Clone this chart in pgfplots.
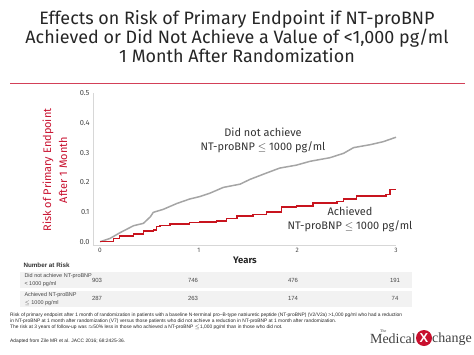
\documentclass[border=0pt]{standalone}
\usepackage{fontspec}
\setmainfont{Fira Sans}
\newfontfamily\arialf{Liberation Sans}
\newfontfamily\logof{Liberation Serif}
\usepackage{pgfplots}
\pgfplotsset{compat=1.18}
\definecolor{mxred}{RGB}{200,16,46}
\definecolor{curvered}{RGB}{200,20,30}
\definecolor{curvegray}{RGB}{165,165,165}
\definecolor{axgray}{RGB}{215,215,215}
\definecolor{rowgray}{RGB}{242,242,242}
\definecolor{txtgray}{RGB}{70,70,70}
\begin{document}
\begin{tikzpicture}
\useasboundingbox (0,0) rectangle (474bp,-355bp);
% title
\node[align=center, font=\fontsize{18}{19}\selectfont, text=black!85] at (237bp,-37bp)
  {Effects on Risk of Primary Endpoint if NT-proBNP\\Achieved or Did Not Achieve a Value of <1,000 pg/ml\\1 Month After Randomization};
\draw[mxred!80, line width=1pt] (10bp,-83bp) -- (465bp,-83bp);
% y label
\node[rotate=90, align=center, text=mxred, font=\fontsize{11}{16}\selectfont] at (55bp,-170bp)
  {Risk of Primary Endpoint\\After 1 Month};
\begin{axis}[
  at={(93bp,-245bp)}, anchor=south west,
  scale only axis, width=303bp, height=151.7bp,
  xmin=-0.071, xmax=3, ymin=-0.011, ymax=0.5,
  axis x line*=bottom, axis y line*=left,
  axis line style={axgray, line width=0.8pt, -},
  xtick={0,1,2,3}, ytick={0,0.1,0.2,0.3,0.4,0.5},
  major tick length=0pt,
  yticklabel style={/pgf/number format/fixed, /pgf/number format/fixed zerofill, /pgf/number format/precision=1, font=\fontsize{7.5}{9}\selectfont, text=txtgray},
  xticklabel style={font=\fontsize{6.5}{8}\selectfont, text=txtgray},
  /pgf/number format/assume math mode=true,
  clip=false,
]
\addplot[curvegray, line width=1.5pt] coordinates {
(0,0) (0.1,0.011) (0.2,0.030) (0.34,0.054) (0.44,0.062) (0.51,0.084) (0.54,0.099)
(0.64,0.109) (0.78,0.129) (0.91,0.144) (1.01,0.152) (1.11,0.163) (1.25,0.183)
(1.42,0.194) (1.52,0.210) (1.66,0.228) (1.82,0.248) (1.99,0.258) (2.13,0.271)
(2.33,0.283) (2.47,0.298) (2.57,0.317) (2.74,0.327) (2.87,0.337) (3.0,0.352)};
\addplot[curvered, line width=1.4pt, const plot] coordinates {
(0,0) (0.135,0.011) (0.2,0.019) (0.34,0.026) (0.44,0.036) (0.54,0.039) (0.57,0.051)
(0.61,0.055) (0.71,0.060) (0.91,0.064) (1.01,0.067) (1.18,0.070) (1.28,0.079)
(1.39,0.087) (1.55,0.092) (1.69,0.100) (1.84,0.117) (1.99,0.120) (2.16,0.130)
(2.40,0.136) (2.47,0.144) (2.60,0.154) (2.90,0.160) (2.94,0.176) (3.0,0.176)};
\end{axis}
\node[font=\bfseries\fontsize{9.5}{12}\selectfont, text=black!85] at (245bp,-260bp) {Years};
\node[align=center, font=\fontsize{11}{14}\selectfont, text=black!80] at (263bp,-140bp)
  {Did not achieve\\NT-proBNP $\leq$ 1000 pg/ml};
\node[align=center, font=\fontsize{11}{14}\selectfont, text=black!80] at (350bp,-219bp)
  {Achieved\\NT-proBNP $\leq$ 1000 pg/ml};
% number at risk
\node[anchor=west, font=\arialf\bfseries\fontsize{6.3}{7}\selectfont, text=black!80] at (20bp,-265bp) {Number at Risk};
\fill[rowgray] (20bp,-272bp) rectangle (412bp,-288bp);
\fill[rowgray] (20bp,-291bp) rectangle (412bp,-307bp);
\node[anchor=west, align=left, font=\arialf\fontsize{5.5}{7.5}\selectfont, text=txtgray] at (21bp,-280bp) {Did not achieve NT-proBNP\\< 1000 pg/ml};
\node[anchor=west, align=left, font=\arialf\fontsize{5.5}{7.5}\selectfont, text=txtgray] at (21bp,-299bp) {Achieved NT-proBNP\\$\leq$ 1000 pg/ml};
\foreach \x/\a/\b in {97/903/287, 193/746/263, 293/476/174, 395/191/74} {
  \node[font=\arialf\fontsize{6}{7}\selectfont, text=txtgray] at (\x bp,-280bp) {\a};
  \node[font=\arialf\fontsize{6}{7}\selectfont, text=txtgray] at (\x bp,-298bp) {\b};
}
\node[anchor=north west, align=left, inner sep=0pt, font=\arialf\fontsize{4.9}{5.7}\selectfont, text=black!85] at (10bp,-313bp)
 {Risk of primary endpoint after 1 month of randomization in patients with a baseline N-terminal pro–B-type natriuretic peptide (NT-proBNP) (V2/V2a) >1,000 pg/ml who had a reduction\\
 in NT-proBNP at 1 month after randomization (V7) versus those patients who did not achieve a reduction in NT-proBNP at 1 month after randomization.\\
 The risk at 3 years of follow-up was $\approx$50\% less in those who achieved a NT-proBNP $\leq$1,000 pg/ml than in those who did not.};
\node[anchor=west, inner sep=0pt, font=\arialf\fontsize{4.9}{5.7}\selectfont, text=black!85] at (10bp,-341bp)
 {Adapted from Zile MR et al. JACC 2016; 68:2425-36.};
% logo
\node[anchor=east, inner sep=0pt, font=\logof\fontsize{14}{15}\selectfont, text=black!75] at (416bp,-339bp) {Medical};
\node[anchor=south west, inner sep=0pt, font=\logof\fontsize{4}{5}\selectfont, text=black!75] at (380bp,-333bp) {The};
\fill[mxred] (424bp,-338bp) circle (8bp);
\node[font=\arialf\bfseries\fontsize{13}{14}\selectfont, text=white] at (424bp,-338bp) {X};
\node[anchor=west, inner sep=0pt, font=\logof\fontsize{14}{15}\selectfont, text=black!75] at (432bp,-339bp) {change};
\end{tikzpicture}
\end{document}
